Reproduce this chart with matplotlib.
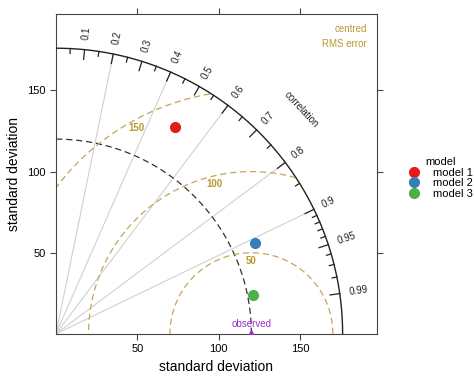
import numpy as np
import matplotlib.pyplot as plt

plt.rcParams['font.family'] = ['Liberation Sans', 'DejaVu Sans']

models = ['model 1', 'model 2', 'model 3']
model_sd = [146.8, 134.6, 123.1]
model_cor = [0.497, 0.910, 0.981]
model_colors = ['#E41A1C', '#377EB8', '#4DAF4A']
obs_sd = 120.0
max_sd = 176.0
rms_levels = [50, 100, 150]
rms_label_angles = [90, 104, 119]
cor_grid = [0.2, 0.4, 0.6, 0.8, 0.9]
cor_labels = [0.1, 0.2, 0.3, 0.4, 0.5, 0.6, 0.7, 0.8, 0.9, 0.95, 0.99]

gold = '#B8962E'
gold_line = '#C4A65A'
fig = plt.figure(figsize=(4.74, 3.82), dpi=100)
ax = fig.add_axes([0.118, 0.126, 0.677, 0.837])
ax.set_xlim(0, 197)
ax.set_ylim(0, 197)

# grey correlation lines
for c in cor_grid:
    a = np.arccos(c)
    ax.plot([0, max_sd * np.cos(a)], [0, max_sd * np.sin(a)], color='#D0D0D0', lw=0.8, zorder=1)

# outer arc
t = np.linspace(0, np.pi / 2, 300)
ax.plot(max_sd * np.cos(t), max_sd * np.sin(t), color='#222222', lw=1.0, zorder=3)

# ticks on the arc
minor = list(np.arange(0.05, 0.91, 0.05)) + list(np.arange(0.91, 1.0, 0.01))
for c in minor:
    a = np.arccos(c)
    big = any(abs(c - m) < 1e-6 for m in cor_labels)
    ln = 6 if big else 3
    ax.plot([(max_sd - ln) * np.cos(a), max_sd * np.cos(a)],
            [(max_sd - ln) * np.sin(a), max_sd * np.sin(a)], color='#222222', lw=0.9, zorder=3)

for c in cor_labels:
    a = np.arccos(c)
    ax.text(182 * np.cos(a), 182 * np.sin(a), f'{c:g}', rotation=np.degrees(a),
            rotation_mode='anchor', ha='left', va='center', fontsize=7, color='#222222')

ax.text(150.6, 138, 'correlation', rotation=-47, ha='center', va='center', fontsize=7, color='#222222')

# observed sd arc
ax.plot(obs_sd * np.cos(t), obs_sd * np.sin(t), color='#333333', lw=0.9, ls=(0, (5, 3)), zorder=2)

# centred RMS error circles
tt = np.linspace(0, np.pi, 600)
for lev, ang in zip(rms_levels, rms_label_angles):
    x = obs_sd + lev * np.cos(tt)
    y = lev * np.sin(tt)
    inside = (np.hypot(x, y) <= max_sd) & (x >= 0)
    x = np.where(inside, x, np.nan)
    y = np.where(inside, y, np.nan)
    ax.plot(x, y, color=gold_line, lw=0.9, ls=(0, (5, 3)), zorder=2)
    r = lev - 5
    ax.text(obs_sd + r * np.cos(np.radians(ang)), r * np.sin(np.radians(ang)), str(lev),
            color=gold, fontsize=7, fontweight='bold', ha='center', va='center')

ax.text(0.97, 0.97, 'centred\nRMS error', transform=ax.transAxes, ha='right', va='top',
        color=gold, fontsize=7, linespacing=1.6)

# observed
ax.plot([obs_sd], [0], marker='^', color='#9932CC', ms=6, zorder=5, clip_on=True)
ax.text(obs_sd, 3, 'observed', color='#9932CC', fontsize=7, ha='center', va='bottom')

# models
for name, sd, cr, col in zip(models, model_sd, model_cor, model_colors):
    a = np.arccos(cr)
    ax.plot(sd * np.cos(a), sd * np.sin(a), 'o', color=col, ms=7, label=name, zorder=6)

for s in ax.spines.values():
    s.set_color('#444444')
ax.set_xticks([50, 100, 150])
ax.set_yticks([50, 100, 150])
ax.tick_params(top=True, right=True, labelsize=8, color='#444444', length=4, direction='out')
ax.set_xlabel('standard deviation', fontsize=10)
ax.set_ylabel('standard deviation', fontsize=10)

leg = fig.legend(loc='center left', bbox_to_anchor=(0.852, 0.534), frameon=False, title='model',
                 fontsize=8, title_fontsize=8, handletextpad=1.2, labelspacing=0.05, borderaxespad=0,
                 handlelength=1.0)
leg._legend_box.align = 'center'

fig.savefig('out.png', dpi=100)
